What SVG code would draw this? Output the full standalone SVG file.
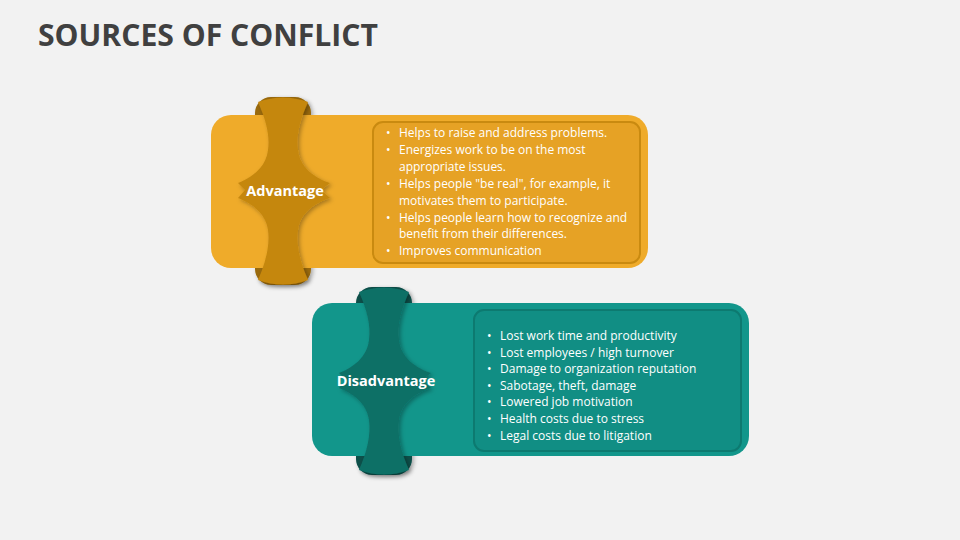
<svg xmlns="http://www.w3.org/2000/svg" width="960" height="540" viewBox="0 0 960 540">
<style>
.t{font-family:"Open Sans","Liberation Sans",sans-serif;fill:#fff;font-size:12px}
.lb{font-family:"Open Sans","Liberation Sans",sans-serif;fill:#fff;font-size:14.5px;font-weight:bold;text-anchor:middle}
</style>
<defs>
<path id="hg" d="M258,102 Q283,93 308,102 C300,120 296,135 298,150 C300,168 315,178 330,183 L321,190 L330,198 C315,203 300,213 298,230 C296,245 300,262 308,280 Q283,289 258,280 C266,262 270,245 268,230 C266,213 251,203 238,198 L245,190 L238,183 C251,178 266,168 268,150 C270,135 266,120 258,102 Z"/>
<filter id="sh" x="-20%" y="-20%" width="140%" height="140%"><feDropShadow dx="2" dy="2" stdDeviation="2" flood-color="#000" flood-opacity="0.3"/></filter>
</defs>
<rect width="960" height="540" fill="#f2f2f2"/>
<text x="38" y="46" font-family="'Open Sans','Liberation Sans',sans-serif" font-weight="bold" font-size="30" fill="#404040" textLength="340" lengthAdjust="spacingAndGlyphs">SOURCES OF CONFLICT</text>
<g id="advantage">
<rect x="255" y="97" width="56" height="188" rx="16" fill="#9a6a0a" filter="url(#sh)"/>
<rect x="211" y="115" width="437" height="153" rx="20" fill="#efab2a"/>
<rect x="373" y="122" width="267" height="141" rx="10" fill="#e6a225" stroke="#c98a10" stroke-width="2"/>
<use href="#hg" fill="#c5870f" filter="url(#sh)"/>
<text class="lb" x="285" y="196">Advantage</text>
<text class="t"><tspan x="386" y="137">•</tspan><tspan x="399" y="137">Helps to raise and address problems.</tspan>
<tspan x="386" y="154">•</tspan><tspan x="399" y="154">Energizes work to be on the most</tspan>
<tspan x="399" y="171">appropriate issues.</tspan>
<tspan x="386" y="188">•</tspan><tspan x="399" y="188">Helps people "be real", for example, it</tspan>
<tspan x="399" y="205">motivates them to participate.</tspan>
<tspan x="386" y="222">•</tspan><tspan x="399" y="222">Helps people learn how to recognize and</tspan>
<tspan x="399" y="238">benefit from their differences.</tspan>
<tspan x="386" y="255">•</tspan><tspan x="399" y="255">Improves communication</tspan></text>
</g>
<g id="disadvantage">
<g transform="translate(101,190)">
<rect x="255" y="97" width="56" height="188" rx="16" fill="#0a4f49" filter="url(#sh)"/>
<rect x="211" y="113" width="437" height="153" rx="20" fill="#12968b"/>
<rect x="373" y="120" width="267" height="141" rx="10" fill="#118e84" stroke="#0d7a70" stroke-width="2"/>
<use href="#hg" fill="#0f6f66" filter="url(#sh)"/>
</g>
<text class="lb" x="386" y="386">Disadvantage</text>
<text class="t"><tspan x="487" y="340">•</tspan><tspan x="500" y="340">Lost work time and productivity</tspan>
<tspan x="487" y="357">•</tspan><tspan x="500" y="357">Lost employees / high turnover</tspan>
<tspan x="487" y="373">•</tspan><tspan x="500" y="373">Damage to organization reputation</tspan>
<tspan x="487" y="390">•</tspan><tspan x="500" y="390">Sabotage, theft, damage</tspan>
<tspan x="487" y="406">•</tspan><tspan x="500" y="406">Lowered job motivation</tspan>
<tspan x="487" y="423">•</tspan><tspan x="500" y="423">Health costs due to stress</tspan>
<tspan x="487" y="440">•</tspan><tspan x="500" y="440">Legal costs due to litigation</tspan></text>
</g>
<g id="connectors"/>
</svg>
